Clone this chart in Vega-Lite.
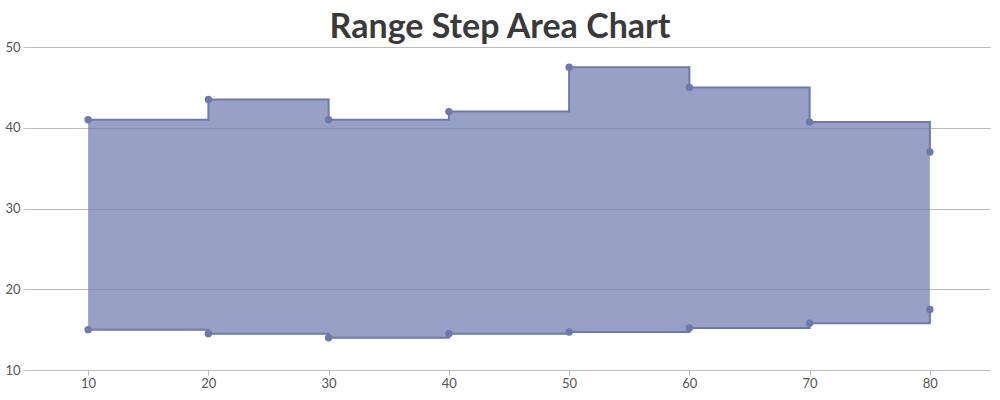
{
  "$schema": "https://vega.github.io/schema/vega-lite/v6.json",
  "autosize": {"type": "none"},
  "width": 962,
  "height": 323,
  "padding": {"left": 28, "top": 47, "right": 10, "bottom": 30},
  "background": "white",
  "title": {
    "text": "Range Step Area Chart",
    "font": "Lato",
    "fontSize": 34,
    "fontWeight": "bold",
    "color": "#3A3A3A",
    "anchor": "middle",
    "dx": -9,
    "dy": 12,
    "offset": 8
  },
  "data": {
    "values": [
      {"x": 10, "low": 15, "high": 41},
      {"x": 20, "low": 14.5, "high": 43.5},
      {"x": 30, "low": 14, "high": 41},
      {"x": 40, "low": 14.5, "high": 42},
      {"x": 50, "low": 14.7, "high": 47.5},
      {"x": 60, "low": 15.2, "high": 45},
      {"x": 70, "low": 15.8, "high": 40.7},
      {"x": 80, "low": 17.5, "high": 37}
    ]
  },
  "config": {
    "view": {"stroke": null},
    "axis": {
      "labelFont": "Lato",
      "labelFontSize": 13,
      "labelColor": "#555555",
      "tickColor": "#BBBBBB",
      "gridColor": "#BBBBBB",
      "domainColor": "#BBBBBB",
      "tickSize": 5,
      "title": null
    }
  },
  "encoding": {
    "x": {
      "field": "x",
      "type": "quantitative",
      "scale": {"domain": [5, 85], "nice": false, "zero": false},
      "axis": {"values": [10, 20, 30, 40, 50, 60, 70, 80], "grid": false, "labelPadding": 2}
    }
  },
  "layer": [
    {
      "mark": {"type": "area", "interpolate": "step-after", "color": "#6D78AD", "fillOpacity": 0.7},
      "encoding": {
        "y": {
          "field": "high",
          "type": "quantitative",
          "scale": {"domain": [10, 50], "nice": false, "zero": false},
          "axis": {"values": [10, 20, 30, 40, 50], "domain": false, "labelPadding": 3}
        },
        "y2": {"field": "low"}
      }
    },
    {
      "mark": {"type": "line", "interpolate": "step-after", "color": "#6D78AD", "strokeWidth": 2},
      "encoding": {"y": {"field": "high", "type": "quantitative"}}
    },
    {
      "mark": {"type": "line", "interpolate": "step-after", "color": "#6D78AD", "strokeWidth": 2},
      "encoding": {"y": {"field": "low", "type": "quantitative"}}
    },
    {
      "mark": {"type": "point", "filled": true, "color": "#6D78AD", "opacity": 1, "size": 55},
      "encoding": {"y": {"field": "high", "type": "quantitative"}}
    },
    {
      "mark": {"type": "point", "filled": true, "color": "#6D78AD", "opacity": 1, "size": 55},
      "encoding": {"y": {"field": "low", "type": "quantitative"}}
    }
  ]
}
